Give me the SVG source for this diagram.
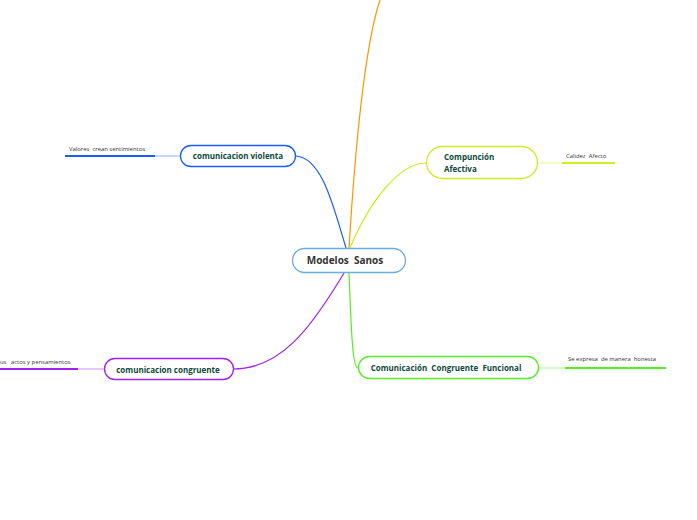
<svg xmlns="http://www.w3.org/2000/svg" width="697" height="520" viewBox="0 0 697 520">
<style>
text{white-space:pre}
.node{fill:#fff;stroke-width:1.3}
.lbl{font-family:"Open Sans","Noto Sans",sans-serif;font-weight:bold;font-size:8px;fill:#0d4a3a}
.leaf{font-family:"Open Sans","Noto Sans",sans-serif;font-size:5.9px;fill:#333}
.c{fill:none;stroke-width:1.2}
</style>
<rect width="697" height="520" fill="#fff"/>
<g id="connectors">
<path class="c" stroke="#ff9500" stroke-width="2" d="M349,248 C355,150 365,45 380,0"/>
<path class="c" stroke="#1a5cff" d="M346,248 C333,205 322,158 296,156"/>
<path class="c" stroke="#ccee22" d="M350,248 C370,200 400,163 426,163"/>
<path class="c" stroke="#a020f0" d="M344,273 C310,330 280,369 233,369"/>
<path class="c" stroke="#55ee22" d="M349,273 C351,320 352,368 358,368"/>
<line x1="155" y1="156" x2="180" y2="156" stroke="#1a5cff" stroke-width="0.5"/>
<line x1="65" y1="156" x2="155" y2="156" stroke="#1a5cff" stroke-width="2"/>
<line x1="537" y1="163" x2="562" y2="163" stroke="#ccee22" stroke-width="0.5"/>
<line x1="562" y1="163" x2="615" y2="163" stroke="#ccee22" stroke-width="2"/>
<line x1="78" y1="369" x2="104" y2="369" stroke="#a020f0" stroke-width="0.5"/>
<line x1="0" y1="369" x2="78" y2="369" stroke="#a020f0" stroke-width="2"/>
<line x1="538" y1="368" x2="565" y2="368" stroke="#55ee22" stroke-width="0.5"/>
<line x1="565" y1="368" x2="666" y2="368" stroke="#55ee22" stroke-width="2"/>
</g>
<g id="central">
<rect class="node" x="292.5" y="248.5" width="113" height="24" rx="12" stroke="#6aaee0" stroke-width="1.6"/>
<text x="345" y="264" text-anchor="middle" font-family="Open Sans, Noto Sans, sans-serif" font-weight="bold" font-size="10px" fill="#333">Modelos  Sanos</text>
</g>
<g id="violenta">
<rect class="node" x="180.5" y="145.5" width="115" height="21" rx="10.5" stroke="#1a5cff"/>
<text class="lbl" x="238" y="159" text-anchor="middle">comunicacion violenta</text>
</g>
<g id="violenta-leaf">
<text class="leaf" x="69" y="151">Valores  crean sentimientos</text>
</g>
<g id="afectiva">
<rect class="node" x="426.5" y="146.5" width="111" height="32" rx="16" stroke="#ccee22"/>
<text class="lbl" x="444" y="160">Compunción</text>
<text class="lbl" x="444" y="172">Afectiva</text>
</g>
<g id="afectiva-leaf">
<text class="leaf" x="566" y="158">Calidez  Afecto</text>
</g>
<g id="congruente">
<rect class="node" x="104.5" y="358.5" width="129" height="21" rx="10.5" stroke="#a020f0"/>
<text class="lbl" x="168" y="373" text-anchor="middle">comunicacion congruente</text>
</g>
<g id="congruente-leaf">
<text class="leaf" x="0" y="364">us   actos y pensamientos</text>
</g>
<g id="funcional">
<rect class="node" x="358.5" y="356.5" width="180" height="22" rx="11" stroke="#55ee22"/>
<text class="lbl" x="446" y="371" text-anchor="middle">Comunicación  Congruente  Funcional</text>
</g>
<g id="funcional-leaf">
<text class="leaf" x="568" y="361">Se expresa  de manera  honesta</text>
</g>
</svg>
